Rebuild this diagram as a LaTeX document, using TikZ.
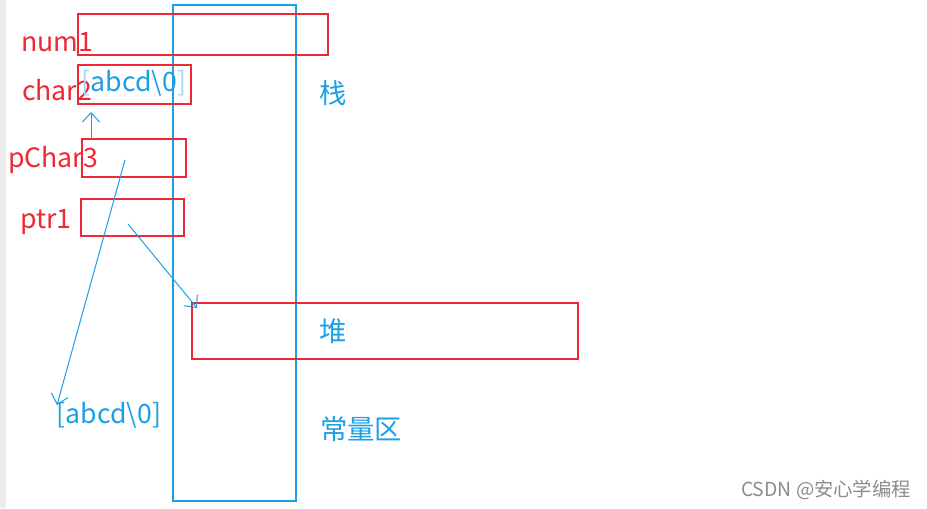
\documentclass[tikz,border=0pt]{standalone}
\usepackage{fontspec}
\setmainfont{Noto Sans CJK SC}
\usetikzlibrary{arrows.meta}
\definecolor{myred}{RGB}{238,40,52}
\definecolor{myblue}{RGB}{28,160,228}
\definecolor{strip}{RGB}{236,236,236}
\definecolor{wm}{RGB}{140,140,140}
\tikzset{
  redbox/.style={draw=myred, line width=0.9pt, inner sep=0pt},
  bluebox/.style={draw=myblue, line width=0.9pt, inner sep=0pt},
  redlbl/.style={text=myred, font=\fontsize{20pt}{22pt}\selectfont, inner sep=0pt},
  bluelbl/.style={text=myblue, font=\fontsize{20pt}{22pt}\selectfont, inner sep=0pt},
  cjklbl/.style={text=myblue, font=\fontsize{20.5pt}{22pt}\selectfont, inner sep=0pt},
  ptr/.style={draw=myblue, line width=0.75pt, -{Straight Barb[length=7pt,width=13pt]}},
}
\begin{document}
\begin{tikzpicture}[x=0.75pt,y=-0.75pt]
\useasboundingbox (0,0) rectangle (927,508);
\fill[white] (0,0) rectangle (927,508);
\fill[strip] (0,0) rectangle (6,508);
% stack column
\node[bluebox, minimum width=123*0.75pt, minimum height=496*0.75pt] (stack) at (234.5,253) {};
% boxes
\node[redbox, minimum width=250*0.75pt, minimum height=41*0.75pt] (num1box) at (203,34.5) {};
\node[redbox, minimum width=113*0.75pt, minimum height=39*0.75pt] (char2box) at (134.5,84.5) {};
\node[redbox, minimum width=104*0.75pt, minimum height=38*0.75pt] (pchar3box) at (134,158) {};
\node[redbox, minimum width=103*0.75pt, minimum height=37*0.75pt] (ptr1box) at (132.5,217.5) {};
\node[redbox, minimum width=386*0.75pt, minimum height=56*0.75pt] (heapbox) at (385,331) {};
% labels
\node[redlbl] (num1) at (57,42) {num1};
\node[redlbl] (char2) at (57,90) {char2};
\node[redlbl] (pchar3) at (53,160) {pChar3};
\node[redlbl] (ptr1) at (46,222) {ptr1};
\node[bluelbl] (str1) at (134,83) {\textcolor{myblue!40}{[}abcd\textbackslash0\textcolor{myblue!40}{]}};
\node[bluelbl] (str2) at (109,415) {[abcd\textbackslash0]};
\node[cjklbl] (zhan) at (333,93) {栈};
\node[cjklbl] (dui) at (333,331) {堆};
\node[cjklbl] (const) at (361,429) {常量区};
\node[text=wm, font=\fontsize{14.5pt}{16pt}\selectfont, inner sep=0pt] (mark) at (826,490) {CSDN @安心学编程};
% pointers
\coordinate (p3s) at (91,139);
\coordinate (p3e) at (91,112);
\coordinate (p3b) at (125,160);
\coordinate (str2t) at (57,405);
\coordinate (p1s) at (128,224);
\coordinate (heapc) at (197,308);
\draw[ptr] (p3s) -- (p3e);
\draw[ptr] (p3b) -- (str2t);
\draw[ptr] (p1s) -- (heapc);
\end{tikzpicture}
\end{document}
